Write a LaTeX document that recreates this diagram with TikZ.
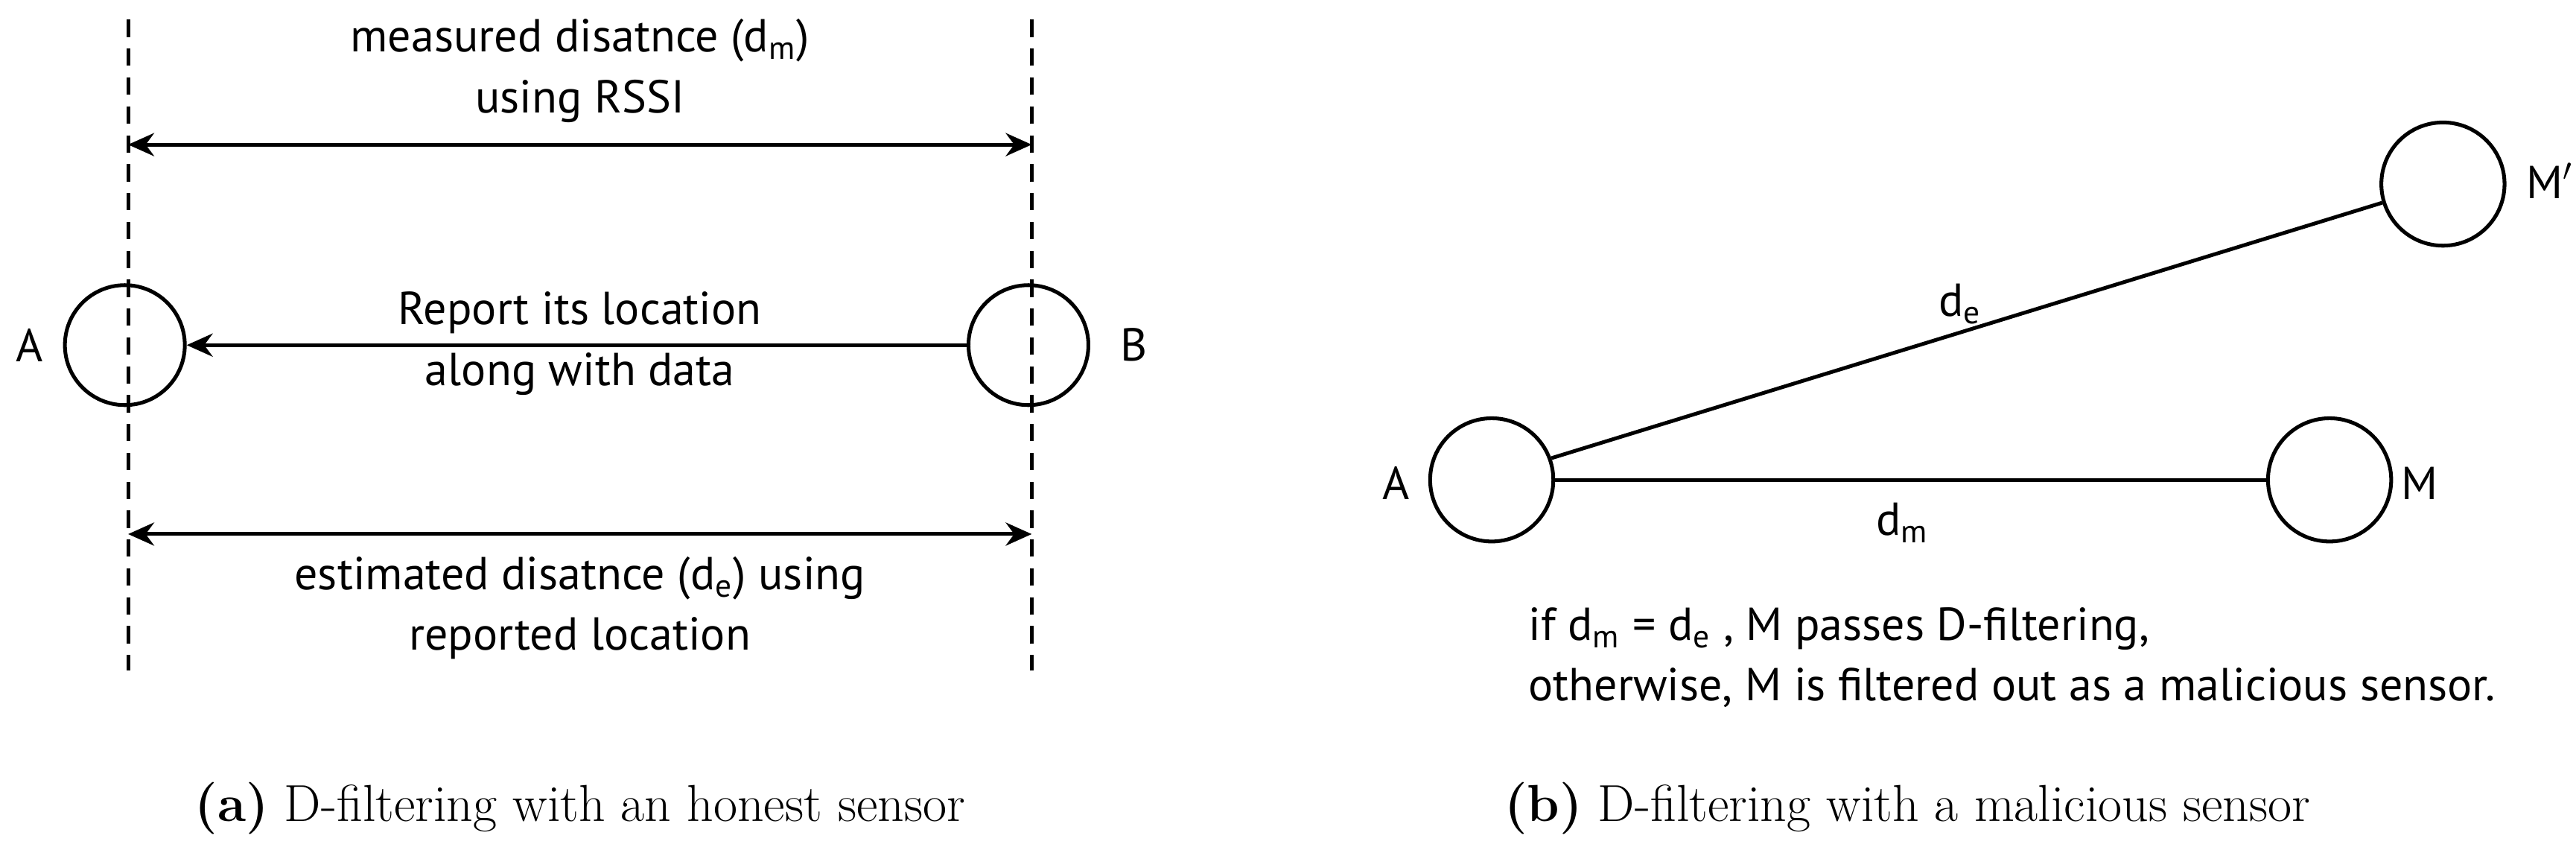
\documentclass[tikz,border=0pt]{standalone}
\usepackage{fontspec}
\newfontfamily\labfont{PT Sans}
\usetikzlibrary{arrows.meta}
\begin{document}
\begin{tikzpicture}[x=0.02cm,y=-0.02cm,
  circ/.style={circle,draw,line width=1.3pt,minimum size=1.46cm,inner sep=0},
  lab/.style={font=\labfont\fontsize{16}{19}\selectfont,align=center,inner sep=0},
  captxt/.style={font=\fontsize{18}{21}\selectfont,inner sep=0},
  ln/.style={line width=1.3pt},
  arr/.style={ln,-{Stealth[length=9pt,width=8pt]}},
  darr/.style={ln,{Stealth[length=9pt,width=8pt]}-{Stealth[length=9pt,width=8pt]}}]
\useasboundingbox (0,0) rectangle (1568,517);
% (a)
\coordinate (t1) at (78,12); \coordinate (b1) at (78,408);
\coordinate (t2) at (628,12); \coordinate (b2) at (628,408);
\draw[ln,dash pattern=on 6pt off 4pt] (t1) -- (b1);
\draw[ln,dash pattern=on 6pt off 4pt] (t2) -- (b2);
\node[circ] (A) at (76,210) {};
\node[circ] (B) at (626,210) {};
\node[lab] at (18,210) {A};
\node[lab] at (690,210) {B};
\coordinate (u1) at (78,88); \coordinate (u2) at (628,88);
\draw[darr] (u1) -- (u2);
\node[lab] at (353,43) {measured disatnce (d\textsubscript{m})\\[2pt]using RSSI};
\draw[arr] (B) -- (A);
\node[lab] at (353,209) {Report its location\\[2pt]along with data};
\coordinate (l1) at (78,325); \coordinate (l2) at (628,325);
\draw[darr] (l1) -- (l2);
\node[lab] at (353,370) {estimated disatnce (d\textsubscript{e}) using\\[2pt]reported location};
\node[captxt] at (353,492) {\textbf{(a)} D-filtering with an honest sensor};
% (b)
\node[circ,minimum size=1.5cm] (A2) at (908,292) {};
\node[circ,minimum size=1.5cm] (M) at (1418,292) {};
\node[circ,minimum size=1.5cm] (Mp) at (1487,112) {};
\node[lab] at (850,294) {A};
\node[lab] at (1473,294) {M};
\node[lab] at (1552,110) {M$'$};
\draw[ln] (A2) -- (M);
\draw[ln] (A2.20) -- (Mp);
\node[lab] at (1158,318) {d\textsubscript{m}};
\node[lab] at (1193,185) {d\textsubscript{e}};
\node[lab,align=left,anchor=west] at (930,400) {if d\textsubscript{m} = d\textsubscript{e} , M passes D-filtering,\\[2pt]otherwise, M is filtered out as a malicious sensor.};
\node[captxt] at (1161,492) {\textbf{(b)} D-filtering with a malicious sensor};
\end{tikzpicture}
\end{document}
